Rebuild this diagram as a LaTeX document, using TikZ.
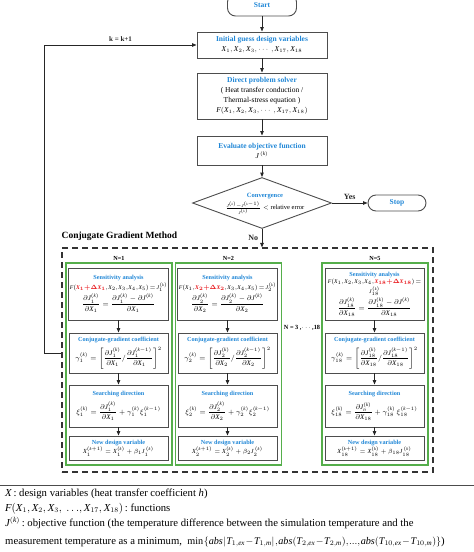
\documentclass[tikz,border=0pt]{standalone}
\usepackage{amsmath,amssymb}
\usepackage{fontspec}
\setmainfont{Liberation Serif}
\usepackage{xcolor}
\usepackage{tikz}
\usetikzlibrary{positioning,arrows.meta,shapes.geometric,calc}
\definecolor{TitleBlue}{HTML}{1F86D6}
\definecolor{MarkRed}{HTML}{E8161B}
\definecolor{LoopGreen}{HTML}{55AE4B}
\definecolor{BoxEdge}{HTML}{4D4D4D}
% Times-like italic letters in formulas
\DeclareSymbolFont{lsit}{TU}{\rmdefault}{m}{it}
\SetSymbolFont{lsit}{bold}{TU}{\rmdefault}{b}{it}
\DeclareMathSymbol{F}{\mathalpha}{lsit}{`F}
\DeclareMathSymbol{J}{\mathalpha}{lsit}{`J}
\DeclareMathSymbol{T}{\mathalpha}{lsit}{`T}
\DeclareMathSymbol{X}{\mathalpha}{lsit}{`X}
\DeclareMathSymbol{a}{\mathalpha}{lsit}{`a}
\DeclareMathSymbol{b}{\mathalpha}{lsit}{`b}
\DeclareMathSymbol{e}{\mathalpha}{lsit}{`e}
\DeclareMathSymbol{h}{\mathalpha}{lsit}{`h}
\DeclareMathSymbol{k}{\mathalpha}{lsit}{`k}
\DeclareMathSymbol{m}{\mathalpha}{lsit}{`m}
\DeclareMathSymbol{n}{\mathalpha}{lsit}{`n}
\DeclareMathSymbol{s}{\mathalpha}{lsit}{`s}
\DeclareMathSymbol{x}{\mathalpha}{lsit}{`x}
\newcommand{\boxtitle}[1]{{\color{TitleBlue}\bfseries #1}}
\newcommand{\fml}[1]{{\fontsize{7}{8}\selectfont #1}}
\newcommand{\tightfml}[1]{{\fontsize{5.7}{7}\selectfont\thinmuskip=1mu\medmuskip=1.5mu\thickmuskip=2.5mu #1}}

\begin{document}
\begin{tikzpicture}[x=1pt,y=-1pt,
    every node/.style={font=\fontsize{7.5}{10}\selectfont},
    ar/.style={-{Triangle[length=4.5pt,width=3.5pt]},line width=0.9pt,black!85},
    flowbox/.style={draw=BoxEdge, line width=0.9pt, minimum width=130pt,
                    align=center, inner sep=1pt},
    cellbox/.style={draw=BoxEdge, line width=0.9pt, minimum width=99pt,
                    align=center, inner sep=1pt, font=\fontsize{6.2}{7.6}\selectfont},
    groupbox/.style={draw=LoopGreen, line width=1.2pt, minimum width=106pt,
                     minimum height=202pt},
    tag/.style={font=\fontsize{6.2}{7}\selectfont\bfseries, inner sep=1.5pt},
    keyline/.style={anchor=base west, inner sep=0pt, font=\fontsize{10.7}{12}\selectfont}]
  \useasboundingbox (0,0) rectangle (474,552);

  % main loop
  \node[flowbox, rounded corners=8pt, minimum width=69pt, minimum height=22pt]
    (start) at (262,5) {\raisebox{-2pt}{\boxtitle{Start}}};
  \node[flowbox, minimum height=26pt]
    (init) at (262,45) {\boxtitle{Initial guess design variables}\\
      $X_1, X_2, X_3,\cdots, X_{17}, X_{18}$};
  \node[flowbox, minimum height=46pt]
    (solver) at (262,96) {\boxtitle{Direct problem solver}\\
      ( Heat transfer conduction /\\ Thermal-stress equation )\\
      $F(X_1, X_2, X_3,\cdots, X_{17}, X_{18})$};
  \node[flowbox, minimum height=29pt]
    (eval) at (262,150.5) {\boxtitle{Evaluate objective function}\\ $J^{\,(k)}$};
  \node[draw=BoxEdge, line width=0.9pt, diamond, minimum width=139pt,
        minimum height=51pt, inner sep=0pt] (conv) at (262,203) {};
  \node[align=center, inner sep=0pt, font=\fontsize{6.5}{8}\selectfont]
    (convtxt) at ([xshift=3pt,yshift=-1pt]conv.center) {\boxtitle{Convergence}\\[1pt]
      $\frac{J^{(k)}-J^{(k-1)}}{J^{(k)}}<$ relative error};
  \node[flowbox, rounded corners=8pt, minimum width=58pt, minimum height=16pt]
    (stop) at (397,203) {\boxtitle{Stop}};

  \draw[ar] (start) -- (init);
  \draw[ar] (init) -- (solver);
  \draw[ar] (solver) -- (eval);
  \draw[ar] (eval) -- (conv);
  \draw[ar] (conv) -- node[above, font=\fontsize{8}{9}\selectfont\bfseries] (yes) {Yes} (stop);

  % conjugate gradient block
  \node[draw=black!80, dash pattern=on 6pt off 4pt, line width=1.1pt,
        minimum width=371pt, minimum height=224pt] (cgm) at (247.5,360) {};
  \node[anchor=south west, inner sep=0pt, font=\fontsize{9.5}{11}\selectfont\bfseries]
    (cgmtitle) at ([yshift=7pt]cgm.north west) {Conjugate Gradient Method};
  \draw[ar] (conv) -- node[left, font=\fontsize{8}{9}\selectfont\bfseries] (no) {No}
    (conv |- cgm.north);

  \node[groupbox] (grp1) at (119,364) {};
  \node[groupbox] (grp2) at (228.5,364) {};
  \node[groupbox] (grp5) at (375,364) {};
  \node[tag, above=0pt of grp1] (n1) {N=1};
  \node[tag, above=0pt of grp2] (n2) {N=2};
  \node[tag, above=0pt of grp5] (n5) {N=5};
  \node[tag, font=\fontsize{6.3}{8}\selectfont\bfseries] (nrest) at (302,328)
    {N = 3 ,$\cdots$,18};

  % N=1
  \node[cellbox, minimum height=52pt] (sens1) at (118.5,294) {\boxtitle{Sensitivity analysis}\\
    \tightfml{$F({\color{MarkRed}\boldsymbol{X_1{+}\Delta X_1}}, X_2, X_3, X_4, X_5) = J_1^{\,(k)}$}\\[1pt]
    \fml{$\dfrac{\partial J_1^{(k)}}{\partial X_1} = \dfrac{\partial J_1^{(k)}-\partial J^{(k)}}{\partial X_1}$}};
  \node[cellbox, minimum height=40pt] (conj1) at (118.5,353) {\boxtitle{Conjugate-gradient coefficient}\\[3.5pt]
    \fml{$\gamma_1^{(k)} = \left[\dfrac{\partial J_1^{(k)}}{\partial X_1} / \dfrac{\partial J_1^{(k-1)}}{\partial X_1}\right]^2$}};
  \node[cellbox, minimum height=42pt] (search1) at (118.5,406) {\boxtitle{Searching direction}\\[3.5pt]
    \fml{$\xi_1^{(k)} = \dfrac{\partial J_1^{(k)}}{\partial X_1} + \gamma_1^{(k)}\xi_1^{(k-1)}$}};
  \node[cellbox, minimum height=24pt] (new1) at (118.5,448) {\boxtitle{New design variable}\\
    $X_1^{(k+1)} = X_1^{(k)} + \beta_1 J_1^{\,(k)}$};

  % N=2
  \node[cellbox, minimum height=52pt] (sens2) at (227.5,294) {\boxtitle{Sensitivity analysis}\\
    \tightfml{$F(X_1, {\color{MarkRed}\boldsymbol{X_2{+}\Delta X_2}}, X_3, X_4, X_5) = J_2^{\,(k)}$}\\[1pt]
    \fml{$\dfrac{\partial J_2^{(k)}}{\partial X_2} = \dfrac{\partial J_2^{(k)}-\partial J^{(k)}}{\partial X_2}$}};
  \node[cellbox, minimum height=40pt] (conj2) at (227.5,353) {\boxtitle{Conjugate-gradient coefficient}\\[3.5pt]
    \fml{$\gamma_2^{(k)} = \left[\dfrac{\partial J_2^{(k)}}{\partial X_2} / \dfrac{\partial J_2^{(k-1)}}{\partial X_2}\right]^2$}};
  \node[cellbox, minimum height=42pt] (search2) at (227.5,406) {\boxtitle{Searching direction}\\[3.5pt]
    \fml{$\xi_2^{(k)} = \dfrac{\partial J_2^{(k)}}{\partial X_2} + \gamma_2^{(k)}\xi_2^{(k-1)}$}};
  \node[cellbox, minimum height=24pt] (new2) at (227.5,448) {\boxtitle{New design variable}\\
    $X_2^{(k+1)} = X_2^{(k)} + \beta_2 J_2^{\,(k)}$};

  % N=5
  \node[cellbox, minimum height=52pt] (sens5) at (374.5,294) {\boxtitle{Sensitivity analysis}\\
    \tightfml{$F(X_1, X_2, X_3, X_4, {\color{MarkRed}\boldsymbol{X_{18}{+}\Delta X_{18}}}) =$}\\[0.5pt]
    \tightfml{$J_{18}^{\,(k)}$}\\[0.5pt]
    \fml{$\dfrac{\partial J_{18}^{(k)}}{\partial X_{18}} = \dfrac{\partial J_{18}^{(k)}-\partial J^{(k)}}{\partial X_{18}}$}};
  \node[cellbox, minimum height=40pt] (conj5) at (374.5,353) {\boxtitle{Conjugate-gradient coefficient}\\[3.5pt]
    \fml{$\gamma_{18}^{(k)} = \left[\dfrac{\partial J_{18}^{(k)}}{\partial X_{18}} / \dfrac{\partial J_{18}^{(k-1)}}{\partial X_{18}}\right]^2$}};
  \node[cellbox, minimum height=42pt] (search5) at (374.5,406) {\boxtitle{Searching direction}\\[4.5pt]
    \fml{$\xi_{18}^{(k)} = \dfrac{\partial J_n^{(k)}}{\partial X_{18}} + \gamma_{18}^{(k)}\,\xi_{18}^{(k-1)}$}};
  \node[cellbox, minimum height=24pt] (new5) at (374.5,448) {\boxtitle{New design variable}\\
    $X_{18}^{(k+1)} = X_{18}^{(k)} + \beta_{18} J_{18}^{\,(k)}$};

  \draw[ar] (sens1) -- (conj1);
  \draw[ar] (conj1) -- (search1);
  \draw[ar] (search1) -- (new1);
  \draw[ar] (sens2) -- (conj2);
  \draw[ar] (conj2) -- (search2);
  \draw[ar] (search2) -- (new2);
  \draw[ar] (sens5) -- (conj5);
  \draw[ar] (conj5) -- (search5);
  \draw[ar] (search5) -- (new5);

  % back to the start of the iteration
  \draw[ar] (cgm.west |- conj1) -- ++(-17,0)
    |- node[pos=0.75, above, font=\fontsize{7}{8}\selectfont\bfseries] (ktag) {k = k+1}
    (init.west);

  % key
  \draw[line width=0.6pt, black!70] (0,485) -- (474,485);
  \node[keyline] (key1) at (5,496) {$X$\,:\ design variables (heat transfer coefficient $h$)};
  \node[keyline] (key2) at (5,511) {$F(X_1, X_2, X_3,\ {\ldots}, X_{17}, X_{18})$\,:\ functions};
  \node[keyline] (key3) at (5,526) {$J^{(k)}$\,:\ objective function (the temperature difference
    between the simulation temperature and the};
  \node[keyline] (key4) at (5,544) {measurement temperature as a minimum,\ \ {\fontsize{10.2}{12}\selectfont\medmuskip=1mu\thinmuskip=1mu
    $\min\left\{abs\left|T_{1,ex}-T_{1,m}\right|,abs(T_{2,ex}-T_{2,m}),{...},abs(T_{10,ex}-T_{10,m})\right\}$})};
\end{tikzpicture}
\end{document}
